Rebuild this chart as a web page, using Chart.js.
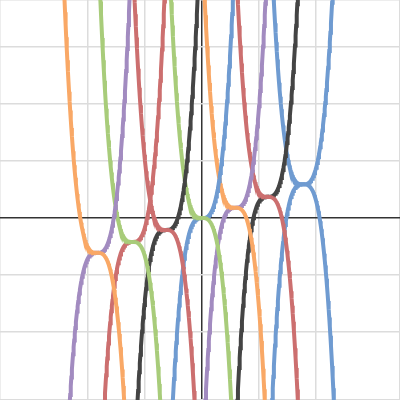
<!DOCTYPE html>
<html>
<head>
<script src="https://cdn.jsdelivr.net/npm/chart.js@4"></script>
<style>body{margin:0;background:#fff}#wrap{width:400px;height:400px}</style>
</head>
<body>
<div id="wrap"><canvas id="grafico"></canvas></div>
<script>
// pontos de inflexao (plato) de cada par de curvas
const platoX = [-1.84, -1.22, -0.63, 0, 0.58, 1.15, 1.77]
const platoY = [-0.61, -0.42, -0.21, 0, 0.18, 0.37, 0.59]
const corDescendo = ['#f9a866', '#a8cc7a', '#cc6f6f', '#a8cc7a', '#f9a866', '#cc6f6f', '#6f9bd1']
const corSubindo = ['#a28bc0', '#cc6f6f', '#444444', '#6f9bd1', '#a28bc0', '#444444', '#6f9bd1']
const coef = 24

function curva(h, k, a){
  let pontos = []
  for (let i = -80; i <= 80; i++){
    let dx = i * 0.01
    let y = a * dx * dx * dx + k
    if (y > 5 || y < -5) continue
    pontos.push({x: h + dx, y: y})
  }
  return pontos
}

let datasets = []
platoX.forEach((h, i) => {
  datasets.push({data: curva(h, platoY[i], -coef), borderColor: corDescendo[i], borderWidth: 4, pointRadius: 0, tension: 0})
  datasets.push({data: curva(h, platoY[i], coef), borderColor: corSubindo[i], borderWidth: 4, pointRadius: 0, tension: 0})
})

const cor = ctx => ctx.tick.value === 0 ? '#333' : '#dcdcdc'

new Chart(document.querySelector('#grafico').getContext('2d'), {
  type: 'line',
  data: {datasets: datasets},
  options: {
    animation: false,
    maintainAspectRatio: false,
    layout: {padding: 0},
    plugins: {legend: {display: false}, tooltip: {enabled: false}},
    scales: {
      x: {type: 'linear', min: -3.54, max: 3.47, ticks: {display: false, stepSize: 1}, border: {display: false}, grid: {color: cor, lineWidth: ctx => ctx.tick.value === 0 ? 1.5 : 1.5, drawTicks: false}},
      y: {type: 'linear', min: -3.19, max: 3.82, ticks: {display: false, stepSize: 1}, border: {display: false}, grid: {color: cor, lineWidth: 1.5, drawTicks: false}}
    }
  }
})
</script>
</body>
</html>
